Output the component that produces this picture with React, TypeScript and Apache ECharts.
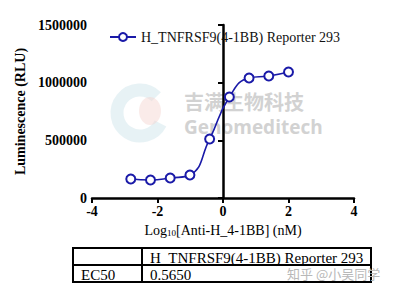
import React, { useEffect, useRef } from "react";
import * as echarts from "echarts";

const seriesName = "H_TNFRSF9(4-1BB) Reporter 293";
const logConc = [-2.816, -2.214, -1.612, -1.01, -0.408, 0.194, 0.796, 1.398, 2.0];
const luminescence = [165000, 156000, 173000, 200000, 512000, 876000, 1040000, 1058000, 1093000];
const yTicks = [0, 500000, 1000000, 1500000];
const xTicks = [-4, -2, 0, 2, 4];
const tableHeader = ["", seriesName];
const tableRow = ["EC50", "0.5650"];

const SERIF = "Liberation Serif";
const BLUE = "#1a1aa8";

export default function App() {
  const ref = useRef<HTMLDivElement>(null);
  useEffect(() => {
    document.body.style.margin = "0";
    const chart = echarts.init(ref.current!, undefined, { renderer: "svg" });
    const tx0 = 73, tx1 = 371, tcol = 142, ty0 = 248, ty1 = 265, ty2 = 282;
    chart.setOption({
      animation: false,
      backgroundColor: "#ffffff",
      grid: { left: 92, right: 41, top: 25, bottom: 96 },
      legend: {
        left: 104,
        top: 25,
        itemWidth: 26,
        itemHeight: 10,
        textStyle: { fontFamily: SERIF, fontSize: 14, color: "#111" },
        data: [seriesName],
      },
      xAxis: {
        type: "value",
        min: xTicks[0],
        max: xTicks[xTicks.length - 1],
        interval: 2,
        splitLine: { show: false },
        axisLine: { onZero: false, lineStyle: { color: "#000", width: 2.5 } },
        axisTick: { length: 5, lineStyle: { color: "#000", width: 2 } },
        axisLabel: { fontFamily: "serif", fontSize: 14, fontWeight: 700, color: "#000", margin: 6 },
        name: "{a|Log}{b|10}{a|[Anti-H_4-1BB] (nM)}",
        nameLocation: "middle",
        nameGap: 23,
        nameTextStyle: {
          rich: {
            a: { fontFamily: SERIF, fontSize: 14, color: "#000", verticalAlign: "bottom", lineHeight: 16 },
            b: { fontFamily: SERIF, fontSize: 9, color: "#000", verticalAlign: "bottom", lineHeight: 12 },
          },
        },
      },
      yAxis: {
        type: "value",
        min: yTicks[0],
        max: yTicks[yTicks.length - 1],
        interval: 500000,
        splitLine: { show: false },
        axisLine: { show: true, lineStyle: { color: "#000", width: 2.5 } },
        axisTick: { show: true, length: 5, lineStyle: { color: "#000", width: 2 } },
        axisLabel: {
          fontFamily: "'Times New Roman', 'Liberation Serif', serif",
          fontSize: 14,
          fontWeight: 700,
          color: "#000",
          margin: 5,
          formatter: (v: number) => String(v),
        },
        name: "Luminescence (RLU)",
        nameLocation: "middle",
        nameGap: 64,
        nameTextStyle: { fontFamily: "'Times New Roman', 'Liberation Serif', serif", fontSize: 14, fontWeight: 700, color: "#000" },
      },
      series: [
        {
          name: seriesName,
          type: "line",
          data: logConc.map((x, i) => [x, luminescence[i]]),
          smooth: 0.5,
          symbol: "emptyCircle",
          symbolSize: 9,
          itemStyle: { color: BLUE, borderWidth: 2.2 },
          lineStyle: { color: BLUE, width: 1.6 },
          z: 5,
        },
      ],
      graphic: [
        // watermark logo
        { type: "arc", shape: { cx: 140, cy: 113, r: 23, startAngle: Math.PI * 0.15, endAngle: Math.PI * 1.75 }, style: { stroke: "#cfe6ec", lineWidth: 13, fill: "none", opacity: 0.5 }, z: 0 },
        { type: "ellipse", shape: { cx: 150, cy: 111, rx: 11, ry: 14 }, style: { fill: "#f5d3cf", opacity: 0.45 }, z: 0 },
        { type: "text", left: 184, top: 90, style: { text: "吉满生物科技", font: "bold 20px 'Noto Sans CJK SC'", lineHeight: 22, fill: "#d2d2d2" }, z: 0 },
        { type: "text", left: 184, top: 116, style: { text: "Genomeditech", font: "bold 19px 'Open Sans', sans-serif", lineHeight: 21, fill: "#d2d2d2" }, z: 0 },
        // table
        { type: "rect", shape: { x: tx0, y: ty0, width: tx1 - tx0, height: ty2 - ty0 }, style: { fill: "none", stroke: "#000", lineWidth: 2 }, z: 10 },
        { type: "line", shape: { x1: tx0, y1: ty1, x2: tx1, y2: ty1 }, style: { stroke: "#000", lineWidth: 2 }, z: 10 },
        { type: "line", shape: { x1: tcol, y1: ty0, x2: tcol, y2: ty2 }, style: { stroke: "#000", lineWidth: 2 }, z: 10 },
        { type: "text", x: 81, y: (ty0 + ty1) / 2, style: { text: tableHeader[0], font: `15px '${SERIF}'`, fill: "#000", verticalAlign: "middle" }, z: 10 },
        { type: "text", x: 150, y: (ty0 + ty1) / 2 + 1, style: { text: tableHeader[1], font: `15px '${SERIF}'`, fill: "#000", verticalAlign: "middle" }, z: 10 },
        { type: "text", x: 81, y: (ty1 + ty2) / 2 + 1, style: { text: tableRow[0], font: `15px '${SERIF}'`, fill: "#000", verticalAlign: "middle" }, z: 10 },
        { type: "text", x: 150, y: (ty1 + ty2) / 2 + 1, style: { text: tableRow[1], font: `15px '${SERIF}'`, fill: "#000", verticalAlign: "middle" }, z: 10 },
        // site watermark
        { type: "text", x: 287, y: 273, style: { text: "知乎 @小吴同学", font: "13px 'Noto Sans CJK SC'", fill: "#b8b8b8", verticalAlign: "middle" }, z: 11 },
      ],
    });
    return () => chart.dispose();
  }, []);
  return <div ref={ref} style={{ width: 395, height: 294 }} />;
}
